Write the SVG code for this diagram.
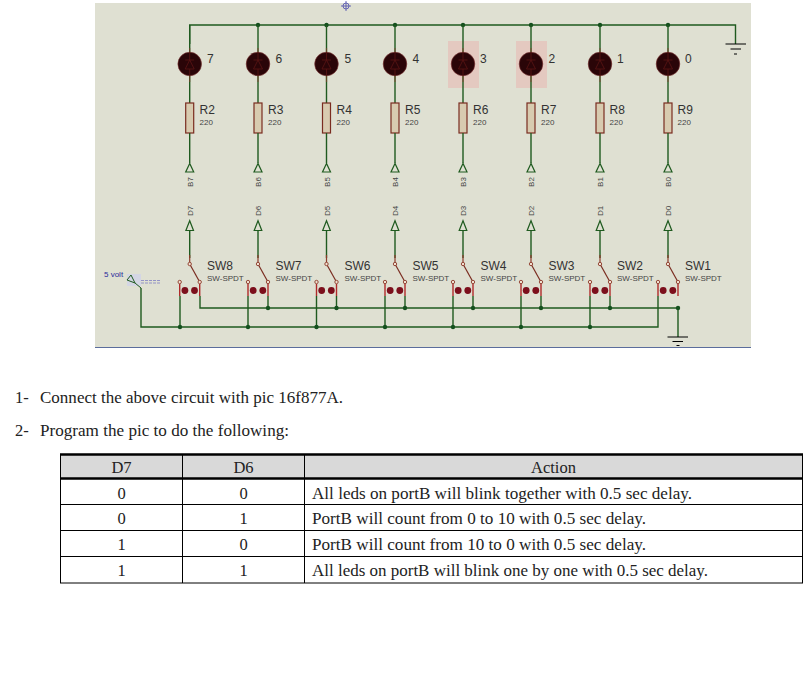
<svg xmlns="http://www.w3.org/2000/svg" xmlns:xlink="http://www.w3.org/1999/xlink" width="808" height="694" viewBox="0 0 808 694">
<style>
.w{fill:none;stroke:#1f5a1f;stroke-width:1.4}
.r{fill:none;stroke:#8c3a2a;stroke-width:1.2}
.j{fill:#14501e}
.s{font-family:"Liberation Sans",Arial,sans-serif;fill:#333}
.lb{font-size:12px}
.sm{font-size:8px;fill:#444}
.pin{font-size:8px;fill:#444}
.t{font-family:"Liberation Serif","Times New Roman",serif;font-size:16.5px;fill:#222}
.c{text-anchor:middle}
.g{fill:none;stroke:#000;stroke-width:1.2}
.tri{fill:none;stroke:#1f5a1f;stroke-width:1.2}
</style>
<defs>
<g id="led">
<line class="w" x1="0" y1="25" x2="0" y2="103"/>
<line class="r" x1="0" y1="48" x2="0" y2="82" stroke-opacity="0.6"/>
<circle cx="0" cy="64" r="11.8" fill="#2a0508" stroke="#7a3030" stroke-width="0.6"/>
<path d="M-4.5 69H4.5L0 60ZM-4.5 60H4.5M0 69V76M0 52V60" fill="none" stroke="#5a1414" stroke-width="0.8"/>
<rect x="-4" y="103" width="8" height="30" fill="#d8cbb0" stroke="#7a2c20" stroke-width="1.2"/>
<line class="w" x1="0" y1="133" x2="0" y2="163"/>
<path class="tri" d="M0 163.500L-4 172H4Z"/>
</g>
<g id="sw">
<path class="tri" d="M0 220.700L-3.800 230.500H3.800Z"/>
<line class="w" x1="0" y1="230.500" x2="0" y2="258"/>
<line class="r" x1="0" y1="255" x2="0" y2="264"/>
<line x1="0" y1="264" x2="10" y2="282" stroke="#7a2c20" stroke-width="1.2"/>
<circle cx="0" cy="264" r="1.7" fill="#f0e0d0" stroke="#8c3a2a" stroke-width="0.9"/>
<line x1="-10" y1="284" x2="-10" y2="296" stroke="#b02a2a" stroke-width="1.4"/>
<line x1="10" y1="284" x2="10" y2="296" stroke="#b02a2a" stroke-width="1.4"/>
<circle cx="-4.800" cy="290.500" r="3.400" fill="#7c0f1c"/>
<circle cx="4.800" cy="290.500" r="3.400" fill="#7c0f1c"/>
<circle cx="-10" cy="282" r="1.700" fill="#f0e0d0" stroke="#8c3a2a" stroke-width="0.9"/>
<circle cx="10" cy="282" r="1.700" fill="#f0e0d0" stroke="#8c3a2a" stroke-width="0.9"/>
</g>
</defs>
<rect width="808" height="694" fill="#fff"/>
<g id="panel">
<rect x="95" y="3" width="656" height="344" fill="#dfe0d2"/>
<line x1="95" y1="347.500" x2="751" y2="347.500" stroke="#5b6d9c" stroke-width="1"/>
<rect x="448" y="41" width="31" height="47" fill="#e4c9c0"/>
<rect x="516" y="41" width="31" height="47" fill="#e4c9c0"/>
<g stroke="#5a5ab0" stroke-width="0.9" fill="none"><circle cx="346" cy="6" r="3"/><path d="M341 6H351M346 1V11"/></g>
</g>
<g id="connectors">
<path class="w" d="M189.700 44V25H735.500V44"/>
<path class="w" d="M141 288V327H658V296"/>
<path class="w" d="M200 296V308H678V337"/>
<path class="w" d="M180 296V327M248 296V327M316.500 296V327M385 296V327M453 296V327M521 296V327M590 296V327"/>
<path class="w" d="M268 296V308M336.500 296V308M405 296V308M473 296V308M541 296V308M610 296V308"/>
<g class="j">
<circle cx="258" cy="25" r="2.200"/><circle cx="326.500" cy="25" r="2.200"/><circle cx="395" cy="25" r="2.200"/><circle cx="463" cy="25" r="2.200"/><circle cx="531" cy="25" r="2.200"/><circle cx="600" cy="25" r="2.200"/><circle cx="668" cy="25" r="2.200"/>
<circle cx="180" cy="327" r="2.200"/><circle cx="248" cy="327" r="2.200"/><circle cx="316.500" cy="327" r="2.200"/><circle cx="385" cy="327" r="2.200"/><circle cx="453" cy="327" r="2.200"/><circle cx="521" cy="327" r="2.200"/><circle cx="590" cy="327" r="2.200"/>
<circle cx="268" cy="308" r="2.200"/><circle cx="336.500" cy="308" r="2.200"/><circle cx="405" cy="308" r="2.200"/><circle cx="473" cy="308" r="2.200"/><circle cx="541" cy="308" r="2.200"/><circle cx="610" cy="308" r="2.200"/><circle cx="678" cy="308" r="2.200"/>
</g>
</g>
<g id="grounds">
<path class="g" d="M725.500 44H746M730.500 49H741M734 54H737"/>
<path class="g" d="M667.500 337H688M672.500 341.500H683M676.500 345.500H679.500"/>
</g>
<g id="source">
<rect x="127" y="274" width="14" height="12" fill="#d4d6e4"/>
<path d="M131 275L127 280L135 283ZM135 283L141 288" fill="none" stroke="#1f5a1f" stroke-width="1"/>
<path d="M141 280.500H160M141 283H160" stroke="#8a8ac4" stroke-width="0.9" stroke-dasharray="3 1"/>
<text x="104" y="277" class="s" style="font-size:8px;fill:#2a2a9a">5 volt</text>
</g>
<g id="led7"><use xlink:href="#led" x="189.700"/><text x="207" y="63" class="s lb">7</text><text x="199.500" y="114" class="s lb">R2</text><text x="199.500" y="125" class="s sm">220</text></g>
<g id="led6"><use xlink:href="#led" x="258"/><text x="275.500" y="63" class="s lb">6</text><text x="268" y="114" class="s lb">R3</text><text x="268" y="125" class="s sm">220</text></g>
<g id="led5"><use xlink:href="#led" x="326.500"/><text x="344.500" y="63" class="s lb">5</text><text x="336.500" y="114" class="s lb">R4</text><text x="336.500" y="125" class="s sm">220</text></g>
<g id="led4"><use xlink:href="#led" x="395"/><text x="412.500" y="63" class="s lb">4</text><text x="405" y="114" class="s lb">R5</text><text x="405" y="125" class="s sm">220</text></g>
<g id="led3"><use xlink:href="#led" x="463"/><text x="480" y="63" class="s lb">3</text><text x="473" y="114" class="s lb">R6</text><text x="473" y="125" class="s sm">220</text></g>
<g id="led2"><use xlink:href="#led" x="531"/><text x="548.500" y="63" class="s lb">2</text><text x="541" y="114" class="s lb">R7</text><text x="541" y="125" class="s sm">220</text></g>
<g id="led1"><use xlink:href="#led" x="600"/><text x="617" y="63" class="s lb">1</text><text x="609.500" y="114" class="s lb">R8</text><text x="609.500" y="125" class="s sm">220</text></g>
<g id="led0"><use xlink:href="#led" x="668"/><text x="685" y="63" class="s lb">0</text><text x="677.500" y="114" class="s lb">R9</text><text x="677.500" y="125" class="s sm">220</text></g>
<g id="sw8"><use xlink:href="#sw" x="189.700"/><text class="s pin c" transform="translate(192.500,182) rotate(-90)">B7</text><text class="s pin c" transform="translate(192.500,211) rotate(-90)">D7</text><text x="207" y="270" class="s lb">SW8</text><text x="207" y="281" class="s sm">SW-SPDT</text></g>
<g id="sw7"><use xlink:href="#sw" x="258"/><text class="s pin c" transform="translate(261,182) rotate(-90)">B6</text><text class="s pin c" transform="translate(261,211) rotate(-90)">D6</text><text x="275.500" y="270" class="s lb">SW7</text><text x="275.500" y="281" class="s sm">SW-SPDT</text></g>
<g id="sw6"><use xlink:href="#sw" x="326.500"/><text class="s pin c" transform="translate(329.500,182) rotate(-90)">B5</text><text class="s pin c" transform="translate(329.500,211) rotate(-90)">D5</text><text x="344.500" y="270" class="s lb">SW6</text><text x="344.500" y="281" class="s sm">SW-SPDT</text></g>
<g id="sw5"><use xlink:href="#sw" x="395"/><text class="s pin c" transform="translate(398,182) rotate(-90)">B4</text><text class="s pin c" transform="translate(398,211) rotate(-90)">D4</text><text x="412.500" y="270" class="s lb">SW5</text><text x="412.500" y="281" class="s sm">SW-SPDT</text></g>
<g id="sw4"><use xlink:href="#sw" x="463"/><text class="s pin c" transform="translate(466,182) rotate(-90)">B3</text><text class="s pin c" transform="translate(466,211) rotate(-90)">D3</text><text x="480.500" y="270" class="s lb">SW4</text><text x="480.500" y="281" class="s sm">SW-SPDT</text></g>
<g id="sw3"><use xlink:href="#sw" x="531"/><text class="s pin c" transform="translate(534,182) rotate(-90)">B2</text><text class="s pin c" transform="translate(534,211) rotate(-90)">D2</text><text x="548.500" y="270" class="s lb">SW3</text><text x="548.500" y="281" class="s sm">SW-SPDT</text></g>
<g id="sw2"><use xlink:href="#sw" x="600"/><text class="s pin c" transform="translate(603,182) rotate(-90)">B1</text><text class="s pin c" transform="translate(603,211) rotate(-90)">D1</text><text x="617" y="270" class="s lb">SW2</text><text x="617" y="281" class="s sm">SW-SPDT</text></g>
<g id="sw1"><use xlink:href="#sw" x="668"/><text class="s pin c" transform="translate(671,182) rotate(-90)">B0</text><text class="s pin c" transform="translate(671,211) rotate(-90)">D0</text><text x="685" y="270" class="s lb">SW1</text><text x="685" y="281" class="s sm">SW-SPDT</text></g>
<g id="instructions">
<text x="15" y="403" class="t">1-</text><text x="40" y="403" class="t" textLength="303" lengthAdjust="spacingAndGlyphs">Connect the above circuit with pic 16f877A.</text>
<text x="15" y="436" class="t">2-</text><text x="40" y="436" class="t" textLength="249" lengthAdjust="spacingAndGlyphs">Program the pic to do the following:</text>
</g>
<g id="table">
<rect x="60" y="455" width="743" height="24" fill="#d9d9d9"/>
<path d="M60 454.500H803M60 478.500H803" stroke="#000" stroke-width="2.400" fill="none"/>
<path d="M60 504.500H803M60 530.500H803M60 556.500H803M60 583H803M60.500 454V583M182.500 454V583M304.500 454V583M802.500 454V583" stroke="#000" stroke-width="1" fill="none"/>
<g class="t c">
<text x="121.500" y="473">D7</text><text x="243.500" y="473">D6</text><text x="553.500" y="473">Action</text>
<text x="121.500" y="499">0</text><text x="243.500" y="499">0</text>
<text x="121.500" y="524">0</text><text x="243.500" y="524">1</text>
<text x="121.500" y="550">1</text><text x="243.500" y="550">0</text>
<text x="121.500" y="576">1</text><text x="243.500" y="576">1</text>
</g>
<text x="312" y="499" class="t" textLength="380" lengthAdjust="spacingAndGlyphs">All leds on portB will blink together with 0.5 sec delay.</text>
<text x="312" y="524" class="t" textLength="334" lengthAdjust="spacingAndGlyphs">PortB will count from 0 to 10 with 0.5 sec delay.</text>
<text x="312" y="550" class="t" textLength="334" lengthAdjust="spacingAndGlyphs">PortB will count from 10 to 0 with 0.5 sec delay.</text>
<text x="312" y="576" class="t" textLength="396" lengthAdjust="spacingAndGlyphs">All leds on portB will blink one by one with 0.5 sec delay.</text>
</g>
</svg>
